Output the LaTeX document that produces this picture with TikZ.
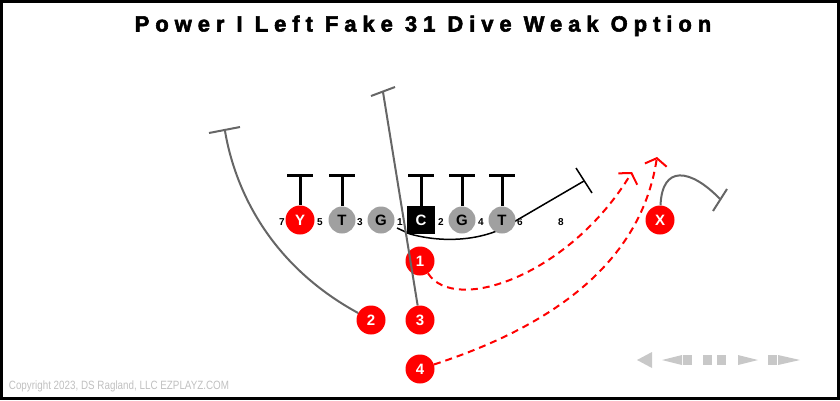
\documentclass[tikz,border=0pt]{standalone}
\usepackage{fontspec}
\setmainfont{Liberation Sans}
\newfontfamily\titlefont[LetterSpace=27, FakeBold=2.5]{Liberation Sans}
\usetikzlibrary{arrows.meta}

\definecolor{playgray}{HTML}{A0A0A0}
\definecolor{routegray}{HTML}{666666}
\definecolor{icongray}{HTML}{C8C8C8}
\definecolor{copygray}{HTML}{C0C0C0}
\definecolor{playred}{HTML}{FF0000}

\begin{document}
\begin{tikzpicture}[x=1pt, y=-1pt,
    lineman/.style={circle, fill=playgray, minimum size=27pt, inner sep=0pt,
        font=\fontsize{15}{15}\selectfont\bfseries},
    center/.style={rectangle, fill=black, text=white, minimum size=28pt, inner sep=0pt,
        font=\fontsize{15}{15}\selectfont\bfseries},
    back/.style={circle, fill=playred, text=white, minimum size=29pt, inner sep=0pt,
        font=\fontsize{15}{15}\selectfont\bfseries},
    hole/.style={font=\fontsize{10}{10}\selectfont\bfseries, inner sep=0pt},
    block/.style={line width=3pt, black},
    route/.style={line width=2pt, routegray},
    option/.style={line width=2pt, playred, dash pattern=on 7pt off 5pt,
        -{Straight Barb[length=7pt, width=22pt, line width=2pt]}},
]

    % Frame
    \useasboundingbox (0,0) rectangle (840,400);
    \draw[line width=3pt] (1.5,1.5) rectangle (838.5,398.5);

    % Title
    \node[anchor=base, font=\titlefont\fontsize{22}{22}\selectfont\bfseries] (title) at (423,31.5)
        {Power I Left Fake 31 Dive Weak Option};

    % Route of the center (drawn under the line)
    \coordinate (ce) at (584,181);
    \draw[line width=1.5pt] (397,228) -- (410,234)
        .. controls (450,245) and (490,238) .. (512,223) -- (ce);
    \draw[line width=1.5pt] (576,168) -- (592,193);

    % Offensive line
    \node[back] (y) at (300,220) {Y};
    \node[lineman] (lt) at (342,220) {T};
    \node[lineman] (lg) at (381,220) {G};
    \node[center] (c) at (421,220) {C};
    \node[lineman] (rg) at (462,220) {G};
    \node[lineman] (rt) at (502,220) {T};
    \node[back] (x) at (660,220) {X};

    % Hole numbers
    \node[hole] (h7) at (282,222) {7};
    \node[hole] (h5) at (320,222) {5};
    \node[hole] (h3) at (360,222) {3};
    \node[hole] (h1) at (400,222) {1};
    \node[hole] (h2) at (441,222) {2};
    \node[hole] (h4) at (481,222) {4};
    \node[hole] (h6) at (520,222) {6};
    \node[hole] (h8) at (561,222) {8};

    % Backs
    \node[back] (b1) at (420,261) {1};
    \node[back] (b2) at (371,320) {2};
    \node[back] (b3) at (420,320) {3};
    \node[back] (b4) at (420,369) {4};

    % Blocks
    \foreach \p in {y, lt, c, rg, rt} {
        \coordinate (\p top) at ([yshift=45pt]\p.center);
        \draw[block] (\p) -- (\p top);
        \draw[block] ([xshift=-13pt]\p top) -- ([xshift=13pt]\p top);
    }

    % Route of 2
    \coordinate (e2) at (225,131);
    \draw[route] (b2) .. controls (270,265) and (235,190) .. (e2);
    \draw[route] (209,133) -- (240,127);

    % Route of 3
    \coordinate (e3) at (383,92);
    \draw[route] (b3) -- (e3);
    \draw[route] (371,96) -- (395,87);

    % Route of X
    \coordinate (ex) at (720,199);
    \draw[route] (x) .. controls (662,165) and (690,168) .. (ex);
    \draw[route] (713,211) -- (727,189);

    % Option routes
    \coordinate (e1) at (632,172);
    \coordinate (e4) at (657,157);
    \draw[option] (b1) .. controls (455,315) and (570,275) .. (e1);
    \draw[option] (b4) .. controls (540,330) and (640,270) .. (e4);

    % Player controls
    \fill[icongray] (637,360) -- (652,352) -- (652,368) -- cycle;
    \fill[icongray] (662,360) -- (682,355) -- (682,365) -- cycle;
    \fill[icongray] (683,355) rectangle (692,365);
    \fill[icongray] (703,355) rectangle (712,365);
    \fill[icongray] (717,355) rectangle (726,365);
    \fill[icongray] (758,360) -- (738,355) -- (738,365) -- cycle;
    \fill[icongray] (768,355) rectangle (777,365);
    \fill[icongray] (800,360) -- (778,355) -- (778,365) -- cycle;

    % Copyright
    \node[anchor=base west, text=copygray, xscale=0.82,
        font=\fontsize{12}{12}\selectfont] (copy) at (6,389)
        {Copyright 2023, DS Ragland, LLC EZPLAYZ.COM};

\end{tikzpicture}
\end{document}
